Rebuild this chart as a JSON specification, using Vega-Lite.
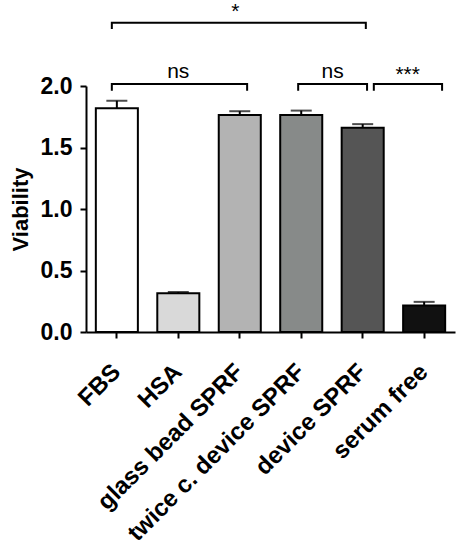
{
  "$schema": "https://vega.github.io/schema/vega-lite/v6.json",
  "width": 369,
  "height": 246,
  "autosize": {"type": "none"},
  "padding": {"left": 86, "top": 86, "right": 18, "bottom": 218},
  "background": "white",
  "config": {
    "font": "Liberation Sans",
    "view": {"stroke": null},
    "axis": {
      "domainColor": "black",
      "domainWidth": 2,
      "tickColor": "black",
      "tickWidth": 2,
      "tickSize": 6,
      "labelColor": "black",
      "labelFont": "Liberation Sans",
      "labelFontWeight": "bold",
      "titleColor": "black",
      "titleFont": "Liberation Sans",
      "titleFontWeight": "bold",
      "grid": false
    }
  },
  "datasets": {
    "bars": [
      {"group": "FBS", "viability": 1.82, "upper": 1.88},
      {"group": "HSA", "viability": 0.315, "upper": 0.325},
      {"group": "glass bead SPRF", "viability": 1.765, "upper": 1.795},
      {"group": "twice c. device SPRF", "viability": 1.765, "upper": 1.8},
      {"group": "device SPRF", "viability": 1.66, "upper": 1.69},
      {"group": "serum free", "viability": 0.215, "upper": 0.245}
    ],
    "brackets": [
      {"id": "a", "k": 1, "pos": 0.42, "y": 2.463},
      {"id": "a", "k": 2, "pos": 0.42, "y": 2.515},
      {"id": "a", "k": 3, "pos": 4.55, "y": 2.515},
      {"id": "a", "k": 4, "pos": 4.55, "y": 2.463},
      {"id": "b", "k": 1, "pos": 0.42, "y": 1.962},
      {"id": "b", "k": 2, "pos": 0.42, "y": 2.016},
      {"id": "b", "k": 3, "pos": 2.62, "y": 2.016},
      {"id": "b", "k": 4, "pos": 2.62, "y": 1.962},
      {"id": "c", "k": 1, "pos": 3.45, "y": 1.962},
      {"id": "c", "k": 2, "pos": 3.45, "y": 2.016},
      {"id": "c", "k": 3, "pos": 4.57, "y": 2.016},
      {"id": "c", "k": 4, "pos": 4.57, "y": 1.962},
      {"id": "d", "k": 1, "pos": 4.68, "y": 1.962},
      {"id": "d", "k": 2, "pos": 4.68, "y": 2.016},
      {"id": "d", "k": 3, "pos": 5.79, "y": 2.016},
      {"id": "d", "k": 4, "pos": 5.79, "y": 1.962}
    ],
    "labels": [
      {"text": "*", "pos": 2.43, "y": 2.6},
      {"text": "ns", "pos": 1.5, "y": 2.11},
      {"text": "ns", "pos": 4.01, "y": 2.11},
      {"text": "***", "pos": 5.23, "y": 2.09}
    ]
  },
  "layer": [
    {
      "data": {"name": "bars"},
      "layer": [
        {
          "mark": {"type": "rule", "strokeWidth": 2, "color": "black"},
          "encoding": {
            "x": {"field": "group", "type": "nominal", "sort": null},
            "y": {"field": "viability", "type": "quantitative"},
            "y2": {"field": "upper"}
          }
        },
        {
          "mark": {"type": "tick", "thickness": 2, "size": 21, "color": "black"},
          "encoding": {
            "x": {"field": "group", "type": "nominal", "sort": null},
            "y": {"field": "upper", "type": "quantitative"}
          }
        },
        {
          "mark": {"type": "bar", "stroke": "black", "strokeWidth": 2},
          "encoding": {
            "x": {
              "field": "group",
              "type": "nominal",
              "sort": null,
              "title": null,
              "scale": {"paddingInner": 0.316, "paddingOuter": 0.16},
              "axis": {
                "labelAngle": -45,
                "labelAlign": "right",
                "labelBaseline": "middle",
                "labelFontSize": 24,
                "labelPadding": 30,
                "labelLimit": 0
              }
            },
            "y": {
              "field": "viability",
              "type": "quantitative",
              "title": "Viability",
              "scale": {"domain": [0, 2]},
              "axis": {
                "values": [0, 0.5, 1, 1.5, 2],
                "format": ".1f",
                "labelFontSize": 23,
                "labelPadding": 8,
                "titleFontSize": 22,
                "titlePadding": 8
              }
            },
            "fill": {
              "field": "group",
              "type": "nominal",
              "sort": null,
              "legend": null,
              "scale": {"range": ["#ffffff", "#d9d9d9", "#b3b3b3", "#878a89", "#555555", "#111111"]}
            }
          }
        }
      ]
    },
    {
      "data": {"name": "brackets"},
      "mark": {"type": "line", "color": "black", "strokeWidth": 2, "clip": false},
      "encoding": {
        "x": {"field": "pos", "type": "quantitative", "scale": {"domain": [0, 6]}, "axis": null},
        "y": {"field": "y", "type": "quantitative"},
        "detail": {"field": "id"},
        "order": {"field": "k"}
      }
    },
    {
      "data": {"name": "labels"},
      "mark": {"type": "text", "fontSize": 21, "color": "black", "font": "Liberation Sans"},
      "encoding": {
        "x": {"field": "pos", "type": "quantitative", "scale": {"domain": [0, 6]}, "axis": null},
        "y": {"field": "y", "type": "quantitative"},
        "text": {"field": "text"}
      }
    }
  ],
  "resolve": {"scale": {"x": "independent"}}
}
